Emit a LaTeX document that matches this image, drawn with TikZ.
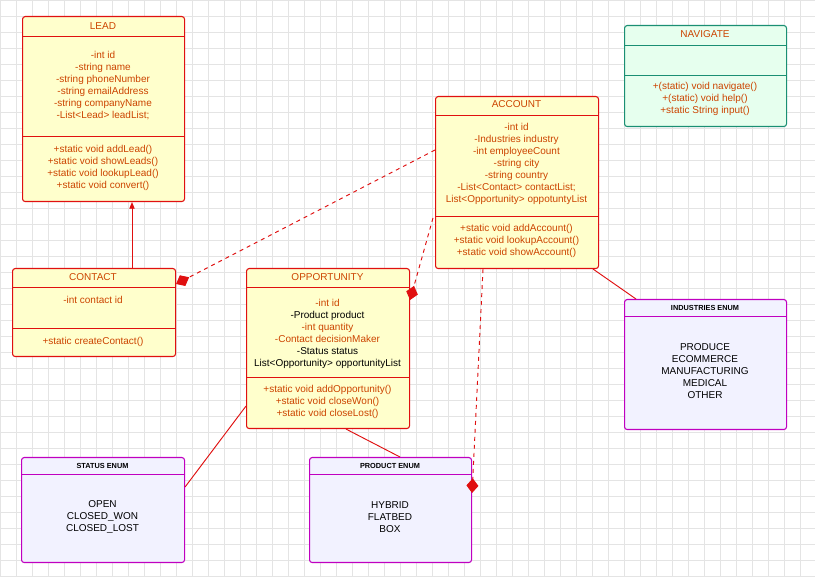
\documentclass[tikz,border=0pt]{standalone}
\usepackage{fontspec}
\setmainfont{Liberation Sans}
\usetikzlibrary{arrows.meta,calc}
\definecolor{yf}{HTML}{FFFFCC}
\definecolor{rs}{HTML}{E01010}
\definecolor{tx}{HTML}{CC4400}
\definecolor{gf}{HTML}{E6FFEE}
\definecolor{gs}{HTML}{1A8F73}
\definecolor{pf}{HTML}{F2F2FF}
\definecolor{ps}{HTML}{C000C0}
\definecolor{grid}{HTML}{E4E4E4}
\tikzset{
 x=0.75pt,y=-0.75pt,
 cls/.style={draw=rs,fill=yf,rounded corners=2pt,line width=0.8pt,inner sep=0,anchor=north west},
 nav/.style={draw=gs,fill=gf,rounded corners=2pt,line width=0.8pt,inner sep=0,anchor=north west},
 enm/.style={draw=ps,fill=pf,rounded corners=2pt,line width=0.8pt,inner sep=0,anchor=north west},
 txt/.style={font=\fontsize{7.5}{9}\selectfont,text=tx,align=center,inner sep=0},
 etx/.style={font=\fontsize{7.5}{9}\selectfont,align=center,inner sep=0},
 eh/.style={font=\bfseries\fontsize{5.5}{7}\selectfont,inner sep=0},
 dia/.style={-{Diamond[length=11pt,width=9pt,fill=rs]}},
 conn/.style={draw=rs,line width=0.7pt},
 sep/.style={line width=0.6pt},
}
\begin{document}
\begin{tikzpicture}
\useasboundingbox (0,0) rectangle (815,577);
\fill[white] (0,0) rectangle (815,577);
\foreach \i in {0,16,...,815} \draw[grid,line width=0.3pt] (\i,0)--(\i,577);
\foreach \j in {0,16,...,577} \draw[grid,line width=0.3pt] (0,\j)--(815,\j);
% LEAD
\node[cls,minimum width=121.5pt,minimum height=138.75pt] (lead) at (22,16) {};
\draw[rs,sep] (22,36)--(184,36) (22,136)--(184,136);
\node[txt] (leadh) at (103,26) {LEAD};
\node[txt] (leada) at (103,86) {-int id\\-string name\\-string phoneNumber\\-string emailAddress\\-string companyName\\-List<Lead> leadList;};
\node[txt] (leadm) at (103,168) {+static void addLead()\\+static void showLeads()\\+static void lookupLead()\\+static void convert()};
% CONTACT
\node[cls,minimum width=122.25pt,minimum height=66pt] (con) at (12,268) {};
\draw[rs,sep] (12,287)--(175,287) (12,328)--(175,328);
\node[txt] at (93,277) {CONTACT};
\node[txt] at (93,300) {-int contact id};
\node[txt] at (93,342) {+static createContact()};
% OPPORTUNITY
\node[cls,minimum width=122.25pt,minimum height=120pt] (opp) at (246,268) {};
\draw[rs,sep] (246,287)--(409,287) (246,377)--(409,377);
\node[txt] at (327.5,277) {OPPORTUNITY};
\node[txt] at (327.5,334) {-int id\\\textcolor{black}{-Product product}\\-int quantity\\-Contact decisionMaker\\\textcolor{black}{-Status status}\\\textcolor{black}{List<Opportunity> opportunityList}};
\node[txt] at (327.5,402) {+static void addOpportunity()\\+static void closeWon()\\+static void closeLost()};
% ACCOUNT
\node[cls,minimum width=122.25pt,minimum height=129pt] (acc) at (435,96) {};
\draw[rs,sep] (435,115)--(598,115) (435,216)--(598,216);
\node[txt] at (516.5,104) {ACCOUNT};
\node[txt] at (516.5,164) {-int id\\-Industries industry\\-int employeeCount\\-string city\\-string country\\-List<Contact> contactList;\\List<Opportunity> oppotuntyList};
\node[txt] at (516.5,241) {+static void addAccount()\\+static void lookupAccount()\\+static void showAccount()};
% NAVIGATE
\node[nav,minimum width=121.5pt,minimum height=75.75pt] (nav) at (624,25) {};
\draw[gs,sep] (624,45)--(786,45) (624,75)--(786,75);
\node[txt] at (705,34) {NAVIGATE};
\node[txt] at (705,99) {+(static) void navigate()\\+(static) void help()\\+static String input()};
% INDUSTRIES
\node[enm,minimum width=121.5pt,minimum height=97.5pt] (ind) at (624,299) {};
\draw[ps,sep] (624,316)--(786,316);
\node[eh] at (705,307.5) {INDUSTRIES ENUM};
\node[etx] at (705,371) {PRODUCE\\ECOMMERCE\\MANUFACTURING\\MEDICAL\\OTHER};
% STATUS
\node[enm,minimum width=122.25pt,minimum height=78.75pt] (st) at (21,457) {};
\draw[ps,sep] (21,474)--(184,474);
\node[eh] at (102.5,465.5) {STATUS ENUM};
\node[etx] at (102.5,517) {OPEN\\CLOSED\_WON\\CLOSED\_LOST};
% PRODUCT
\node[enm,minimum width=121.5pt,minimum height=78.75pt] (pr) at (309,457) {};
\draw[ps,sep] (309,474)--(471,474);
\node[eh] at (390,465.5) {PRODUCT ENUM};
\node[etx] at (390,517) {HYBRID\\FLATBED\\BOX};
% connectors
\draw[conn,-{Triangle[length=5pt,width=4pt]}] ($(con.north west)+(120,0)$) -- ($(lead.south west)+(110,0)$);
\draw[conn,dashed,dia] ($(acc.north west)+(0,54)$) -- ($(con.north east)+(0,16)$);
\draw[conn,dashed,dia] ($(acc.north west)+(-2,122)$) -- ($(opp.north east)+(0,32)$);
\draw[conn,dashed,dia] ($(acc.south west)+(48,0)$) -- ($(pr.north east)+(0,36)$);
\draw[conn] ($(acc.south east)+(-6,0)$) -- ($(ind.north west)+(12,0)$);
\draw[conn] ($(opp.south west)+(0,-23)$) -- ($(st.north east)+(0,30)$);
\draw[conn] ($(opp.south west)+(100,0)$) -- ($(pr.north west)+(91,0)$);
\end{tikzpicture}
\end{document}
